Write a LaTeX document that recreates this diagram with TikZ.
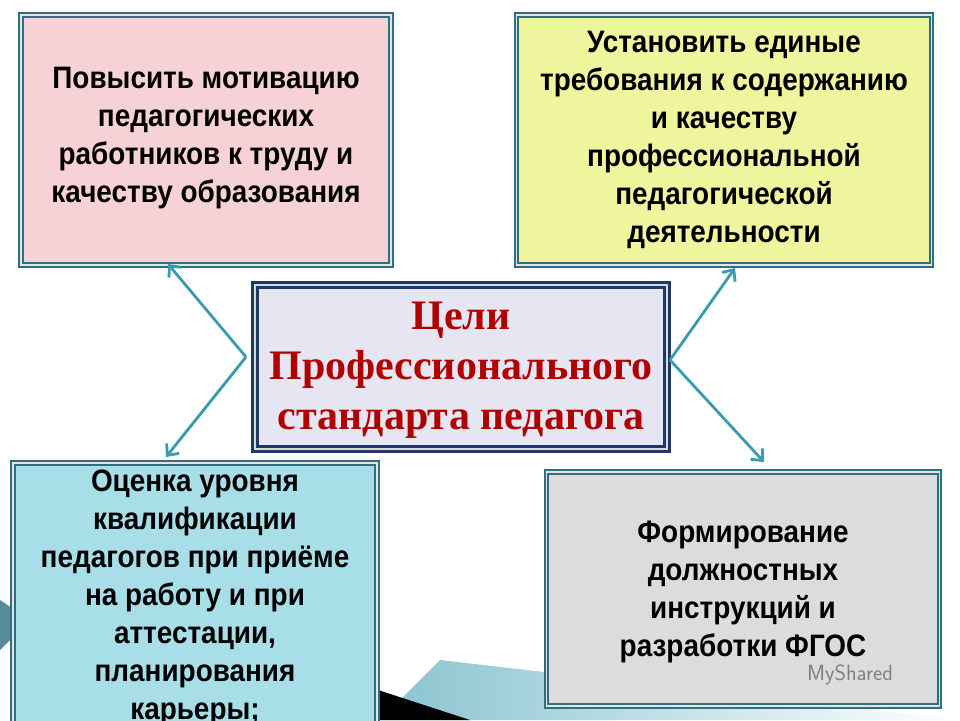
\documentclass[tikz,border=0pt]{standalone}
\usepackage{fontspec}
\setmainfont{Liberation Serif}
\newfontfamily\narrow[FakeStretch=0.9]{Liberation Sans}
\usetikzlibrary{arrows.meta}
\definecolor{tealb}{HTML}{2F6F80}
\definecolor{arr}{HTML}{3A9BB0}
\definecolor{cpink}{HTML}{F6D2D7}
\definecolor{cyel}{HTML}{EEF59C}
\definecolor{cblue}{HTML}{A8DEE8}
\definecolor{cgray}{HTML}{DCDCDC}
\definecolor{cnavy}{HTML}{1F3864}
\definecolor{clav}{HTML}{E6E6F2}
\definecolor{cred}{HTML}{B00000}
\tikzset{
 boxt/.style={draw=tealb,line width=2.2pt,double=white!80!gray,double distance=1.2pt},
 btxt/.style={font=\narrow\bfseries\fontsize{31}{38}\selectfont,align=center,text=black},
 con/.style={draw=arr,line width=2.8pt,-{Straight Barb[length=9pt,width=16pt,line width=2.8pt]}}
}
\begin{document}
\begin{tikzpicture}[x=1pt,y=-1pt]
\useasboundingbox (0,0) rectangle (960,720);
\shade[left color=arr!60,right color=white] (380,720) -- (440,660) -- (960,720) -- cycle;
\fill[black] (370,720) -- (378,690) -- (470,720) -- cycle;
\fill[tealb!80] (0,600) -- (30,620) -- (0,650) -- cycle;
\node[boxt,fill=cpink,minimum width=370pt,minimum height=250pt] (tl) at (206,140) {};
\node[btxt] (tlt) at (206,138) {Повысить мотивацию\\педагогических\\работников к труду и\\качеству образования};
\node[boxt,fill=cyel,minimum width=415pt,minimum height=250pt] (tr) at (724,140) {};
\node[btxt] (trt) at (724,140) {Установить единые\\требования к содержанию\\и качеству\\профессиональной\\педагогической\\деятельности};
\node[boxt,fill=cblue,minimum width=364pt,minimum height=270pt] (bl) at (195,598) {};
\node[btxt] (blt) at (195,598) {Оценка уровня\\квалификации\\педагогов при приёме\\на работу и при\\аттестации,\\планирования\\карьеры;};
\node[boxt,fill=cgray,minimum width=393pt,minimum height=234pt] (br) at (743,589) {};
\node[btxt] (brt) at (743,592) {Формирование\\должностных\\инструкций и\\разработки ФГОС};
\node[draw=cnavy,line width=3pt,double=white!70!gray,double distance=2pt,fill=clav,minimum width=412pt,minimum height=164pt] (c) at (461,367) {};
\node[text=cred,font=\bfseries\fontsize{42}{50}\selectfont,align=center] (ct) at (461,370) {Цели\\Профессионального\\стандарта педагога};
\coordinate (cl) at (246,357);
\coordinate (cr) at (670,360);
\coordinate (a1) at (168,264);
\coordinate (a2) at (166,457);
\coordinate (a3) at (735,268);
\coordinate (a4) at (764,462);
\draw[con] (cl) -- (a1);
\draw[con] (cl) -- (a2);
\draw[con] (cr) -- (a3);
\draw[con] (cr) -- (a4);
\node[text=gray,font=\sffamily\fontsize{22}{22}\selectfont] (w) at (850,675) {MyShared};
\end{tikzpicture}
\end{document}
